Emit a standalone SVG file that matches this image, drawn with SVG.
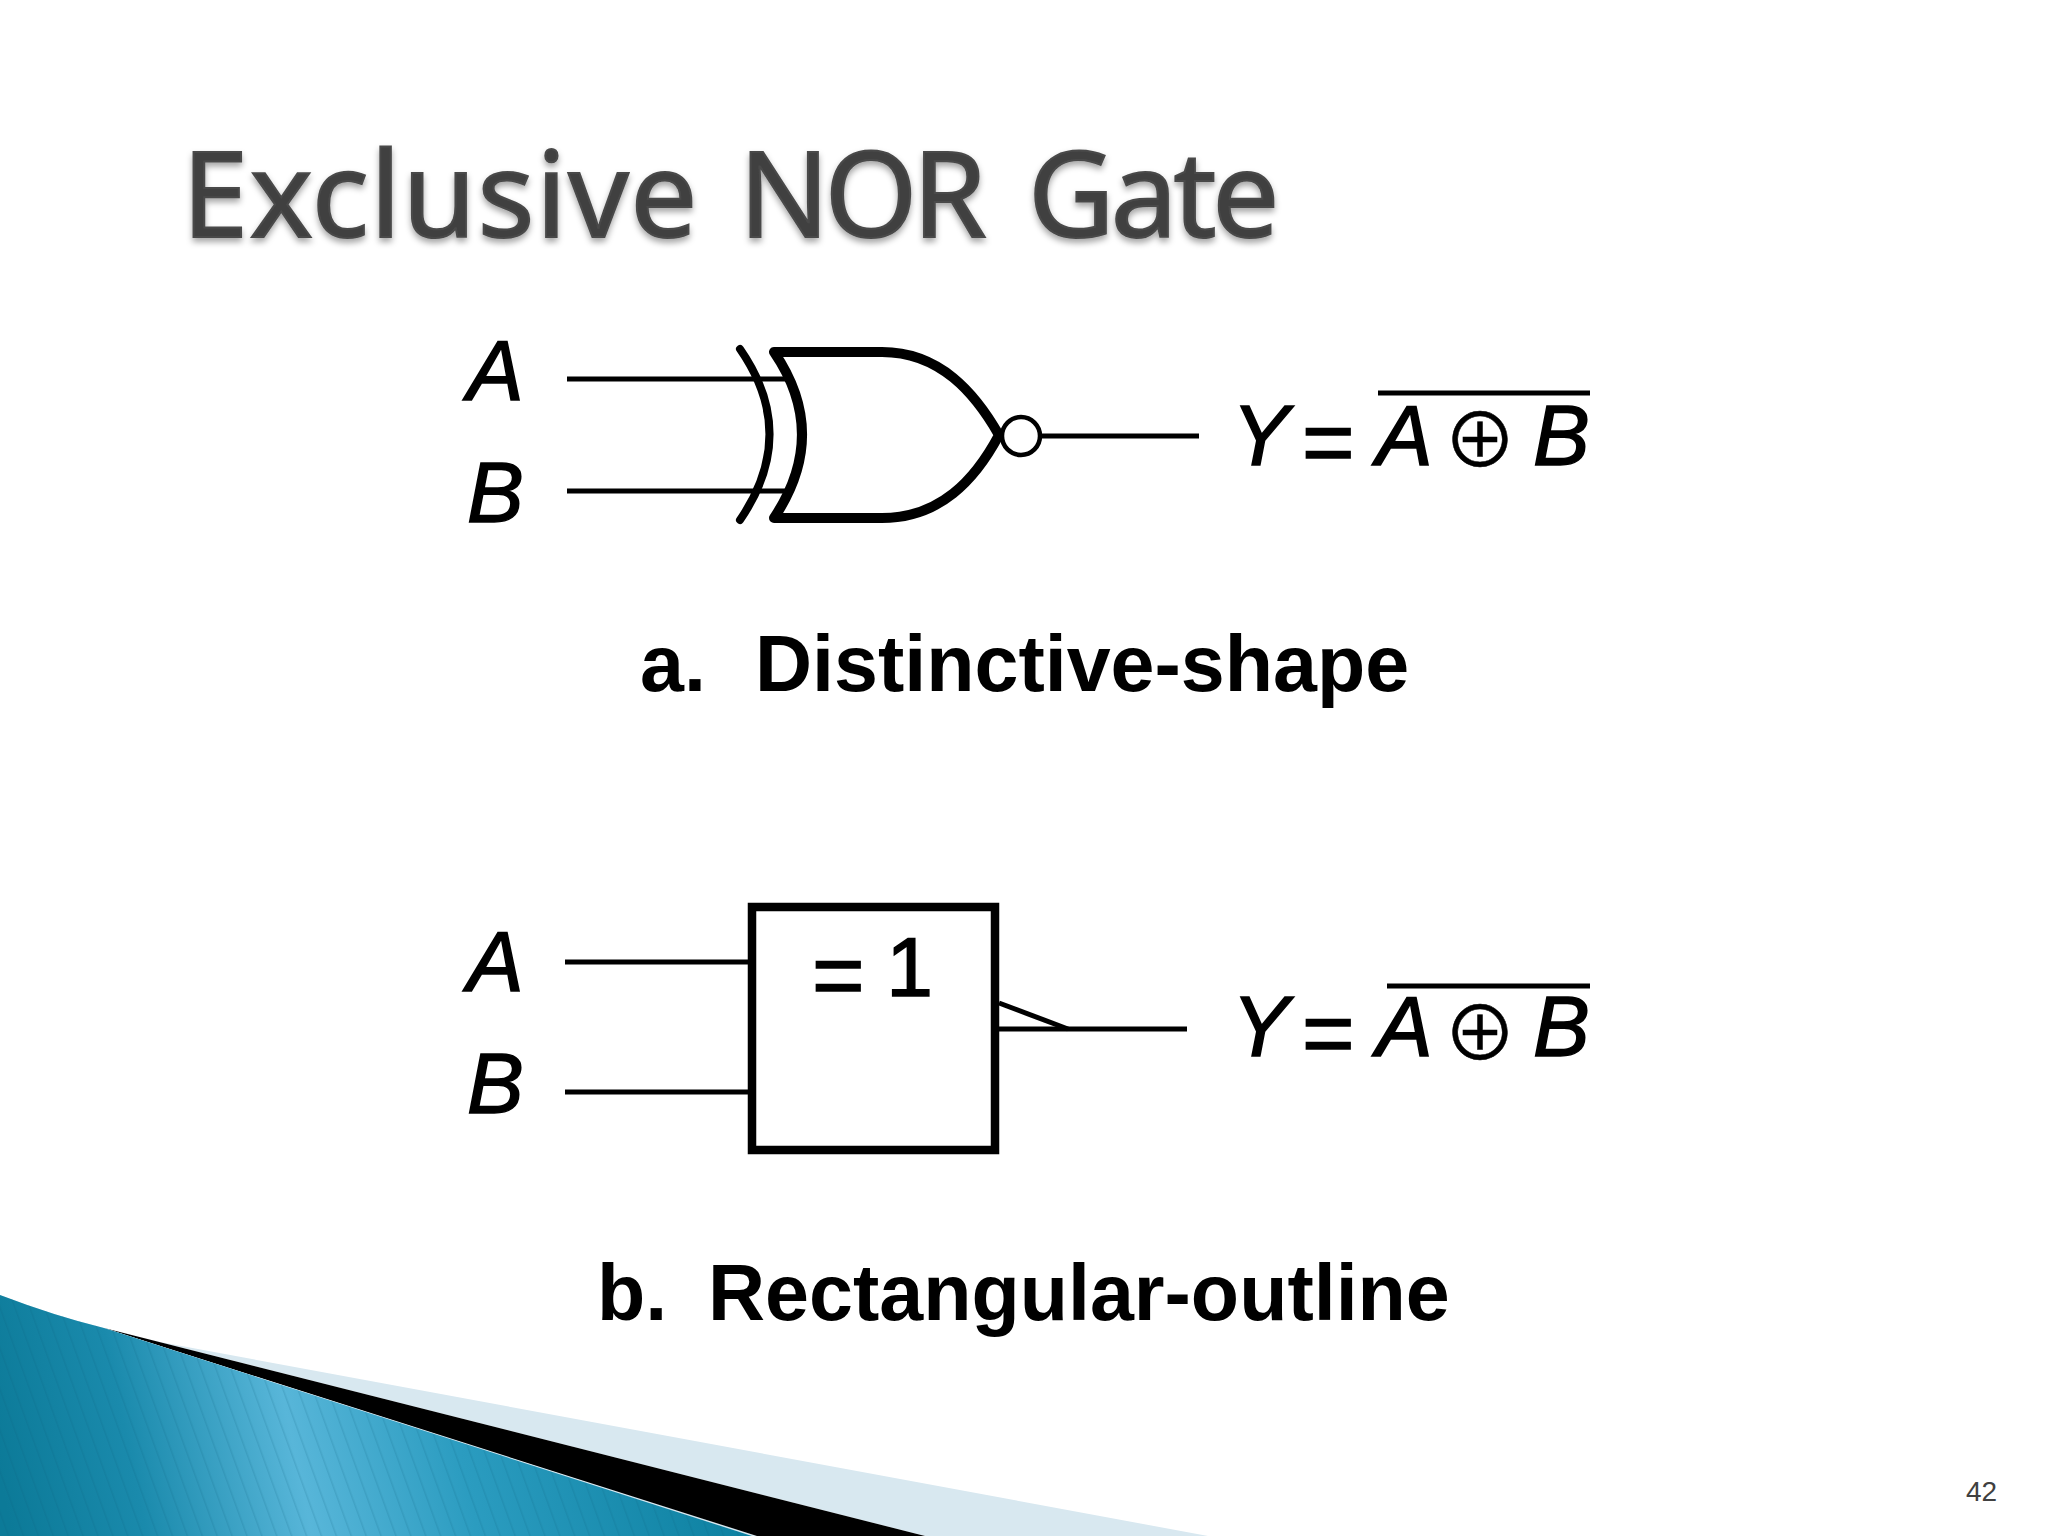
<svg xmlns="http://www.w3.org/2000/svg" width="2048" height="1536" viewBox="0 0 2048 1536">
<defs>
<linearGradient id="blue" gradientUnits="userSpaceOnUse" x1="0" y1="1480" x2="720" y2="1330">
<stop offset="0" stop-color="#0c7a98"/><stop offset="0.18" stop-color="#1a8aac"/><stop offset="0.4" stop-color="#58b6d9"/><stop offset="0.62" stop-color="#2b9cc0"/><stop offset="1" stop-color="#0b7f9f"/>
</linearGradient>
<pattern id="stripes" patternUnits="userSpaceOnUse" width="14" height="40" patternTransform="rotate(-20)">
<rect x="0" y="0" width="1.5" height="40" fill="#0a5f7a" opacity="0.16"/>
</pattern>
<filter id="titleFx" x="-5%" y="-20%" width="110%" height="150%">
<feDropShadow dx="0" dy="4" stdDeviation="3" flood-color="#000" flood-opacity="0.35"/>
</filter>
</defs>
<style>
.sym{font-family:"Liberation Sans",Arial,sans-serif;font-style:italic;font-size:85px;fill:#000;stroke:#000;stroke-width:1.5}
.plain{font-family:"Liberation Sans",Arial,sans-serif;font-size:90px;fill:#000;stroke:#000;stroke-width:1.5}
.op{font-family:"Noto Sans CJK JP",sans-serif;font-size:74px;fill:#000;text-anchor:middle;stroke:#000;stroke-width:.5}
.cap{font-family:"Liberation Sans",Arial,sans-serif;font-weight:bold;font-size:79px;fill:#000}
.wire{fill:none;stroke:#000;stroke-width:5;stroke-linecap:butt}
.body{fill:none;stroke:#000;stroke-width:10;stroke-linecap:round;stroke-linejoin:round}
.over{fill:none;stroke:#000;stroke-width:5}
</style>
<rect width="2048" height="1536" fill="#fff"/>
<g id="swoosh">
<polygon points="104,1328 160,1342 1208,1536 925,1536" fill="#d8e8f0"/>
<polygon points="104,1328 925,1536 754,1536" fill="#000"/>
<path d="M0,1295 Q55,1316 104,1328 L757,1536 L0,1536 Z" fill="#d8e8f0"/>
<path d="M0,1295 Q55,1316 104,1328 L752,1536 L0,1536 Z" fill="url(#blue)"/>
<path d="M0,1295 Q55,1316 104,1328 L752,1536 L0,1536 Z" fill="url(#stripes)"/>
</g>
<text id="title" y="237" font-family="'Noto Sans','Open Sans',sans-serif" font-size="119" fill="#414141" stroke="#4a4a4a" stroke-width="2" filter="url(#titleFx)"><tspan x="182" letter-spacing="1.5">Exclusive </tspan><tspan x="739" letter-spacing="-5">NOR </tspan><tspan x="1028" letter-spacing="-4">Gate</tspan></text>
<g id="connectors">
<line class="wire" x1="567" y1="379" x2="787" y2="379"/>
<line class="wire" x1="567" y1="491" x2="787" y2="491"/>
<line class="wire" x1="1041" y1="436" x2="1199" y2="436"/>
<line class="wire" x1="565" y1="962" x2="750" y2="962"/>
<line class="wire" x1="565" y1="1092" x2="750" y2="1092"/>
<line class="wire" x1="997" y1="1029" x2="1187" y2="1029"/>
</g>
<g id="gate-xnor">
<path class="body" d="M740,349 Q799,434 740,520" style="stroke-width:8"/>
<path class="body" d="M774,352 L882,352 C940,352 975,393 999,435 C975,480 940,518 882,518 L774,518 Q830,434 774,352 Z"/>
<circle cx="1021" cy="436" r="19" fill="#fff" stroke="#000" stroke-width="4.500"/>
</g>
<g id="gate-rect">
<rect x="752" y="907" width="243" height="243" fill="none" stroke="#000" stroke-width="8.500"/>
<line class="wire" x1="999" y1="1003" x2="1068" y2="1029"/>
<text class="plain"><tspan x="812" y="1006">=</tspan><tspan y="996" x="863" style="font-size:84px"> 1</tspan></text>
</g>
<g id="labels-a">
<text class="sym" x="467" y="400">A</text>
<text class="sym" x="467" y="522">B</text>
<text class="sym" x="1232" y="465">Y</text>
<text class="plain" x="1302" y="473">=</text>
<text class="sym" x="1376" y="465">A</text>
<text class="op" x="1480" y="467">⊕</text>
<text class="sym" x="1533" y="465">B</text>
<line class="over" x1="1378" y1="393" x2="1590" y2="393"/>
<text class="cap" x="640" y="691">a.</text>
<text class="cap" x="755" y="691">Distinctive-shape</text>
</g>
<g id="labels-b">
<text class="sym" x="467" y="991">A</text>
<text class="sym" x="467" y="1113">B</text>
<text class="sym" x="1232" y="1056">Y</text>
<text class="plain" x="1302" y="1064">=</text>
<text class="sym" x="1376" y="1056">A</text>
<text class="op" x="1480" y="1060">⊕</text>
<text class="sym" x="1533" y="1056">B</text>
<line class="over" x1="1387" y1="986" x2="1590" y2="986"/>
<text class="cap" x="597" y="1320">b.</text>
<text class="cap" x="708" y="1320">Rectangular-outline</text>
</g>
<text id="page" x="1966" y="1501" font-family="'Liberation Sans',Arial,sans-serif" font-size="28" fill="#404040">42</text>
</svg>
